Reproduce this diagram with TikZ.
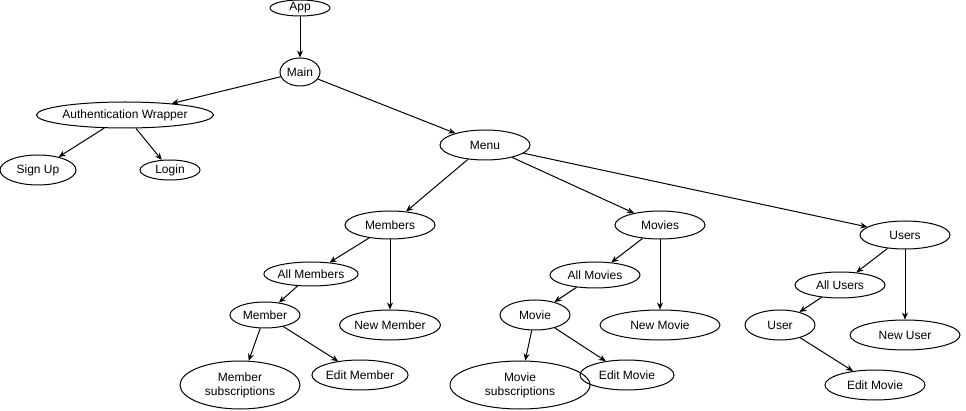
\documentclass[tikz,border=0pt]{standalone}
\usepackage{fontspec}
\setmainfont{Liberation Sans}
\usetikzlibrary{shapes.geometric,arrows.meta}
\begin{document}
\begin{tikzpicture}[x=1pt,y=-1pt,
  e/.style={ellipse,draw,line width=1pt,inner sep=0pt,font=\fontsize{12}{14}\selectfont,align=center},
  a/.style={-{Stealth[length=7pt,width=6pt]},line width=1pt}]
\useasboundingbox (0,0) rectangle (966,411);
\node[e,minimum width=60,minimum height=16] (app) at (300,8) {App};
\node[e,minimum width=40,minimum height=28] (main) at (300,72) {Main};
\node[e,minimum width=170,minimum height=26] (auth) at (125,115) {Authentication Wrapper};
\node[e,minimum width=76,minimum height=30] (sign) at (38,170) {Sign Up};
\node[e,minimum width=60,minimum height=20] (login) at (170,170) {Login};
\node[e,minimum width=90,minimum height=30] (menu) at (485,145) {Menu};
\node[e,minimum width=90,minimum height=28] (mem) at (390,225) {Members};
\node[e,minimum width=72,minimum height=24] (allmem) at (311,274) {All Members};
\node[e,minimum width=70,minimum height=26] (member) at (265,315) {Member};
\node[e,minimum width=120,minimum height=48] (msub) at (240,385) {Member\\subscriptions};
\node[e,minimum width=94,minimum height=30] (emem) at (360,375) {Edit Member};
\node[e,minimum width=100,minimum height=30] (nmem) at (390,325) {New Member};
\node[e,minimum width=90,minimum height=28] (mov) at (660,225) {Movies};
\node[e,minimum width=90,minimum height=26] (allmov) at (595,275) {All Movies};
\node[e,minimum width=70,minimum height=30] (movie) at (535,315) {Movie};
\node[e,minimum width=140,minimum height=48] (vsub) at (520,385) {Movie\\subscriptions};
\node[e,minimum width=94,minimum height=30] (emov) at (627,375) {Edit Movie};
\node[e,minimum width=120,minimum height=30] (nmov) at (660,325) {New Movie};
\node[e,minimum width=90,minimum height=28] (users) at (905,235) {Users};
\node[e,minimum width=90,minimum height=26] (allu) at (840,285) {All Users};
\node[e,minimum width=70,minimum height=30] (user) at (780,325) {User};
\node[e,minimum width=110,minimum height=30] (nuser) at (905,335) {New User};
\node[e,minimum width=100,minimum height=30] (eu) at (875,385) {Edit Movie};
\draw[a] (app) -- (main);
\draw[a] (main) -- (auth);
\draw[a] (main) -- (menu);
\draw[a] (auth) -- (sign);
\draw[a] (auth) -- (login);
\draw[a] (menu) -- (mem);
\draw[a] (menu) -- (mov);
\draw[a] (menu) -- (users);
\draw[a] (mem) -- (allmem);
\draw[a] (mem) -- (nmem);
\draw[a] (allmem) -- (member);
\draw[a] (member) -- (msub);
\draw[a] (member) -- (emem);
\draw[a] (mov) -- (allmov);
\draw[a] (mov) -- (nmov);
\draw[a] (allmov) -- (movie);
\draw[a] (movie) -- (vsub);
\draw[a] (movie) -- (emov);
\draw[a] (users) -- (allu);
\draw[a] (users) -- (nuser);
\draw[a] (allu) -- (user);
\draw[a] (user) -- (eu);
\end{tikzpicture}
\end{document}
